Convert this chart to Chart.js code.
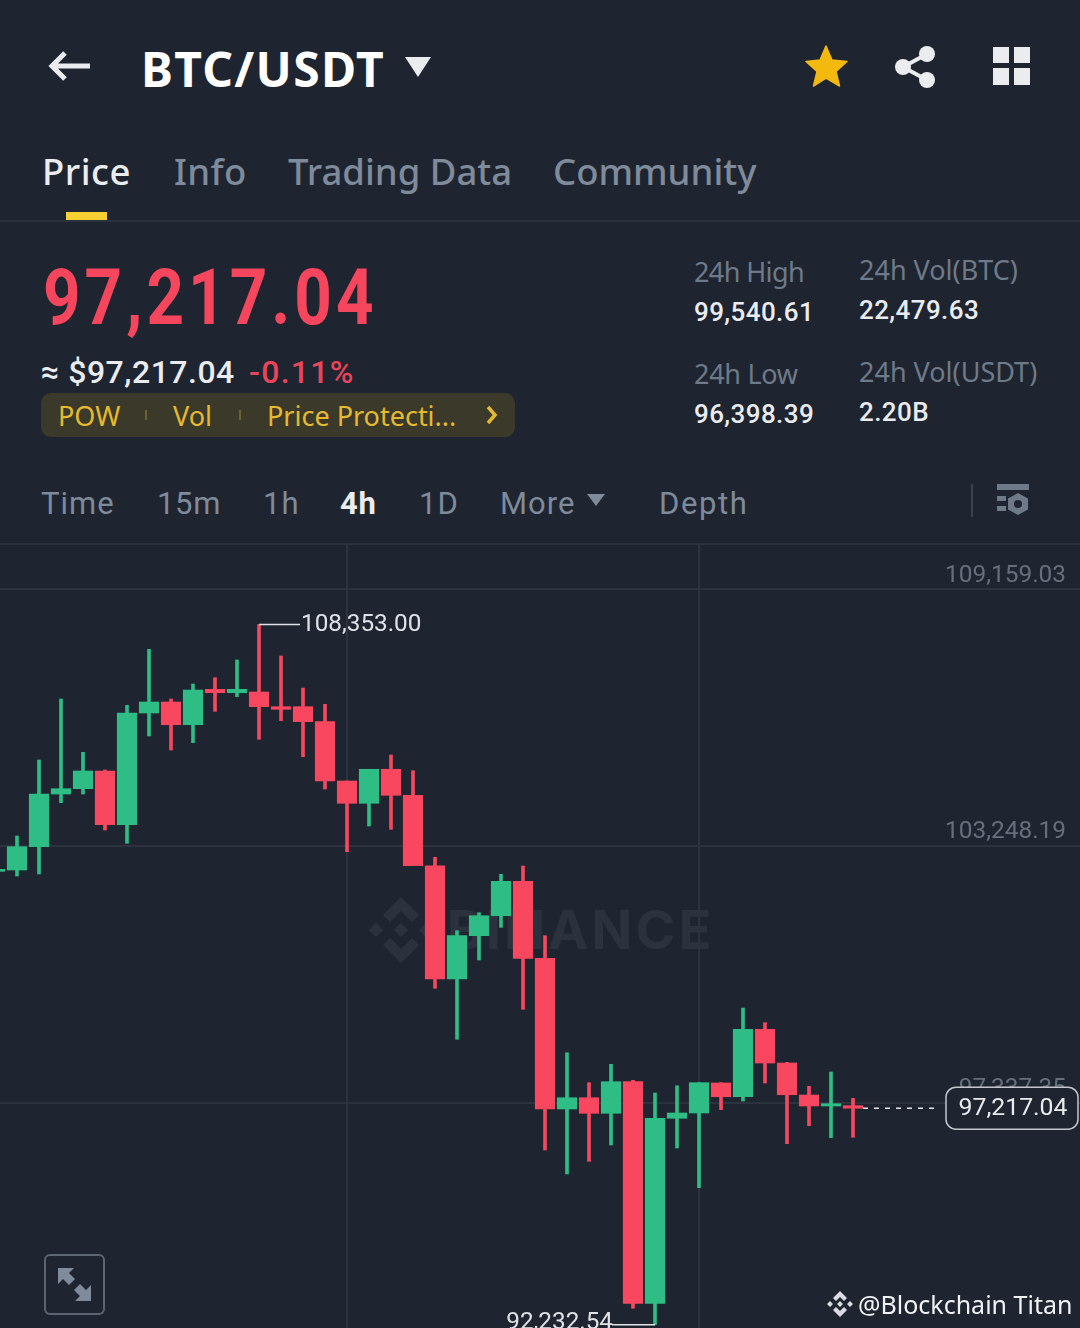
<!DOCTYPE html>
<html>
<head>
<meta charset="utf-8">
<title>BTC/USDT</title>
<script src="https://cdn.jsdelivr.net/npm/chart.js@4"></script>
<style>
  html, body { margin: 0; padding: 0; background: #1e2530; }
  body { position: relative; width: 1080px; height: 1328px; overflow: hidden; font-family: "Noto Sans", sans-serif; color: #eaecef; }
  .t { position: absolute; white-space: nowrap; line-height: 1; transform: translateY(-50%); }
  .rule { position: absolute; left: 0; width: 1080px; height: 2px; background: #2a313c; }
  .gray { color: #7f8a9a; }
  .stat { font-size: 27px; color: #6f7a89; }
  .val { font-size: 26px; font-family: Roboto, sans-serif; font-weight: 500; letter-spacing: .4px; }
  .tab { font-size: 36.5px; font-weight: 500; }
  .range { font-size: 31px; color: #7f8a9a; font-family: Roboto, sans-serif; letter-spacing: 1px; }
  .gold { font-size: 27px; color: #e6b92e; }
  svg { position: absolute; }
  #pill { position: absolute; left: 41px; top: 393px; width: 474px; height: 44px; background: #3b3a2a; border-radius: 10px; }
  #chart { position: absolute; left: -16px; top: 545px; }
</style>
</head>
<body>

<!-- header -->
<svg style="left:46px;top:48px" width="48" height="36" viewBox="0 0 48 36"><path d="M44 18H6M19 5L6 18l13 13" fill="none" stroke="#eaecef" stroke-width="5"/></svg>
<div class="t" style="left:141px;top:69px;font-size:48px;font-weight:700;color:#fff;letter-spacing:1.3px">BTC/USDT</div>
<svg style="left:405px;top:57px" width="26" height="20"><path d="M0 0H26L13 20Z" fill="#eaecef"/></svg>
<svg style="left:804px;top:44px" width="44" height="44" viewBox="0 0 44 44"><path d="M22 2l6 14 15 1.500-11 10 3.500 14.500L22 34 9.500 42 13 27.500 2 17.500 16 16Z" fill="#f4b90f" stroke="#f4b90f" stroke-width="1.500" stroke-linejoin="round"/></svg>
<svg style="left:892px;top:44px" width="46" height="44" viewBox="0 0 46 44"><path d="M35 10L11 23l24 13" fill="none" stroke="#eaecef" stroke-width="4"/><circle cx="35" cy="10" r="8" fill="#eaecef"/><circle cx="11" cy="23" r="8" fill="#eaecef"/><circle cx="35" cy="36" r="8" fill="#eaecef"/></svg>
<svg style="left:993px;top:47px" width="38" height="38"><path d="M0 0h16v16H0zM21 0h16v16H21zM0 21h16v17H0zM21 21h16v17H21z" fill="#eaecef"/></svg>

<!-- tabs -->
<div class="t tab" style="left:42px;top:171px;color:#eaecef;letter-spacing:.5px">Price</div>
<div class="t tab gray" style="left:174px;top:171px;letter-spacing:.4px">Info</div>
<div class="t tab gray" style="left:288px;top:171px">Trading Data</div>
<div class="t tab gray" style="left:553px;top:171px">Community</div>
<div style="position:absolute;left:66px;top:212px;width:41px;height:9px;background:#f7cf33"></div>
<div class="rule" style="top:220px"></div>

<!-- price block -->
<div class="t" style="left:43px;top:298px;font-family:Roboto,sans-serif;font-weight:700;font-size:78px;color:#f6465d;letter-spacing:4.8px;transform:translateY(-50%) scaleX(.84);transform-origin:left center">97,217.04</div>
<div class="t" style="left:41px;top:372px;font-family:Roboto,sans-serif;font-weight:500;font-size:32px;letter-spacing:.5px">≈ $97,217.04</div>
<div class="t" style="left:249px;top:372px;font-family:Roboto,sans-serif;font-weight:500;font-size:32px;color:#e8455c;letter-spacing:1.3px">-0.11%</div>
<div id="pill"></div>
<div class="t gold" style="left:58px;top:415px">POW</div>
<div style="position:absolute;left:145px;top:410px;width:2px;height:10px;background:#6e6330"></div>
<div class="t gold" style="left:173px;top:415px">Vol</div>
<div style="position:absolute;left:239px;top:410px;width:2px;height:10px;background:#6e6330"></div>
<div class="t gold" style="left:267px;top:415px">Price Protecti...</div>
<svg style="left:486px;top:405px" width="13" height="20"><path d="M2 2l7 8-7 8" fill="none" stroke="#e6b92e" stroke-width="3.500"/></svg>

<!-- 24h stats -->
<div class="t stat" style="left:694px;top:271px;letter-spacing:-.6px">24h High</div>
<div class="t val" style="left:694px;top:312px">99,540.61</div>
<div class="t stat" style="left:694px;top:373px;letter-spacing:-.3px">24h Low</div>
<div class="t val" style="left:694px;top:414px">96,398.39</div>
<div class="t stat" style="left:859px;top:269px">24h Vol(BTC)</div>
<div class="t val" style="left:859px;top:310px">22,479.63</div>
<div class="t stat" style="left:859px;top:371px">24h Vol(USDT)</div>
<div class="t val" style="left:859px;top:412px">2.20B</div>

<!-- interval row -->
<div class="t range" style="left:41px;top:503px">Time</div>
<div class="t range" style="left:157px;top:503px;letter-spacing:.7px">15m</div>
<div class="t range" style="left:263px;top:503px">1h</div>
<div class="t range" style="left:340px;top:503px;color:#eaecef;font-weight:700;letter-spacing:.6px">4h</div>
<div class="t range" style="left:419px;top:503px">1D</div>
<div class="t range" style="left:500px;top:503px">More</div>
<svg style="left:587px;top:494px" width="18" height="12"><path d="M0 0H18L9 12Z" fill="#7f8a9a"/></svg>
<div class="t range" style="left:659px;top:503px;letter-spacing:1.6px">Depth</div>
<div style="position:absolute;left:971px;top:484px;width:2px;height:33px;background:#3a424e"></div>
<svg style="left:996px;top:483px" width="34" height="36"><path d="M1 1h32v6H1zM1 13h9v5H1zM1 23h9v5H1z" fill="#6f7a89"/><path d="M22 10l10 5.500v11L22 32l-10-5.500v-11z" fill="#6f7a89"/><circle cx="22" cy="21" r="4" fill="#1e2530"/></svg>
<div class="rule" style="top:543px"></div>

<!-- watermark under the chart -->
<svg style="left:367px;top:896px" width="68" height="68" viewBox="0 0 68 68" fill="#2b323d"><path d="M34 1L52 19l-7 7-11-11-11 11-7-7zM34 67L16 49l7-7 11 11 11-11 7 7zM9 27l7 7-7 7-7-7zM59 27l7 7-7 7-7-7zM34 27l7 7-7 7-7-7z"/></svg>
<div class="t" style="left:447px;top:930px;font-family:Inter,sans-serif;font-weight:700;font-size:54px;color:#2b323d;letter-spacing:3px">BINANCE</div>

<canvas id="chart" width="1100" height="783"></canvas>

<!-- expand button -->
<svg style="left:44px;top:1254px" width="61" height="61"><rect x="1" y="1" width="59" height="59" rx="5" fill="none" stroke="#5c6572" stroke-width="2"/><path d="M14 14h16l-5 5 6 6-6 6-6-6-5 5zM47 47H31l5-5-6-6 6-6 6 6 5-5z" fill="#7f8a9a"/></svg>

<!-- credit -->
<svg style="left:826px;top:1290px" width="28" height="28" viewBox="0 0 28 28" fill="#d9dce0"><path d="M14 1l7 7-3 3-4-4-4 4-3-3zM14 27l-7-7 3-3 4 4 4-4 3 3zM4 11l3 3-3 3-3-3zM24 11l3 3-3 3-3-3zM14 11l3 3-3 3-3-3z"/></svg>
<div class="t" style="left:858px;top:1304px;font-size:25px;color:#f2f3f5">@Blockchain Titan</div>

<script>
// ---- DATA ----
const slots = [0, 1, 2, 3, 4, 5, 6, 7, 8, 9, 10, 11, 12, 13, 14, 15, 16, 17, 18, 19, 20, 21, 22, 23, 24,
  25, 26, 27, 28, 29, 30, 31, 32, 33, 34, 35, 36, 37, 38, 39, 40, 41, 42, 43, 44, 45, 46, 47, 48, 49];
const opens = [102671, 102701, 103238, 104451, 104573, 104981, 103744, 106316, 106569, 106046,
  106861, 106783, 106799, 106461, 106461, 106116, 104750, 104237, 105020, 104421,
  102800, 100192, 101189, 101649, 102441, 100668, 97199, 97459, 97100, 97828,
  92726, 96985, 97107, 97798, 97482, 99034, 98258, 97521, 97268, 97275];
const closes = [102717, 103238, 104451, 104573, 104981, 103744, 106316, 106569, 106046, 106845,
  106783, 106861, 106461, 106401, 106116, 104750, 104237, 105020, 104421, 102800,
  100192, 101189, 101649, 102441, 100668, 97199, 97459, 97100, 97828, 92726,
  96985, 97107, 97805, 97482, 99034, 98258, 97528, 97268, 97321, 97217.04];
const highs = [102790, 103484, 105234, 106638, 105411, 105004, 106493, 107782, 106638, 106983,
  107128, 107536, 108353, 107628, 106891, 106516, 104750, 105020, 105349, 104987,
  102994, 101304, 101718, 102602, 102793, 101189, 98495, 97805, 98228, 97860,
  97567, 97735, 97805, 97805, 99524, 99186, 98274, 97722, 98051, 97445];
const lows = [102600, 102563, 102609, 104251, 104451, 103622, 103316, 105786, 105464, 105632,
  106355, 106691, 105710, 106139, 105310, 104566, 103123, 103714, 103638, 102800,
  99978, 98804, 100629, 101382, 99494, 96255, 95703, 95995, 96370, 92611,
  92232.54, 96301, 95387, 97183, 97383, 97798, 96400, 96814, 96539, 96548];
const priceTicks = [109159.03, 103248.19, 97337.35];
const timeTicks = [16, 32];
const lastPrice = 97217.04;
const priceMin = 92157.3;
const priceMax = 110183.5;

const UP = '#2ebd85';
const DOWN = '#f8475f';
const GRID = '#2c333e';

const money = v => v.toLocaleString('en-US', { minimumFractionDigits: 2, maximumFractionDigits: 2 });
const candleColors = opens.map((o, i) => closes[i] >= o ? UP : DOWN);

// ---- OVERLAYS ----
const overlays = {
  id: 'overlays',
  afterDatasetsDraw(chart) {
    const { ctx, scales: { x, y } } = chart;
    ctx.save();
    ctx.font = '24.3px Roboto';
    ctx.textBaseline = 'middle';

    // highest / lowest labels
    const hi = highs.indexOf(Math.max(...highs));
    const hx = x.getPixelForValue(hi);
    const hy = y.getPixelForValue(highs[hi]);
    ctx.strokeStyle = ctx.fillStyle = '#dfe2e6';
    ctx.lineWidth = 1.5;
    ctx.beginPath(); ctx.moveTo(hx, hy); ctx.lineTo(hx + 41, hy); ctx.stroke();
    ctx.textAlign = 'left';
    ctx.fillText(money(highs[hi]), hx + 42, hy);

    const lo = lows.indexOf(Math.min(...lows));
    const lx = x.getPixelForValue(lo);
    const ly = y.getPixelForValue(lows[lo]);
    ctx.beginPath(); ctx.moveTo(lx, ly); ctx.lineTo(lx - 43, ly); ctx.stroke();
    ctx.textAlign = 'right';
    ctx.fillText(money(lows[lo]), lx - 42, ly - 2);

    // last price dashes and box
    const last = opens.length - 1;
    const py = y.getPixelForValue(lastPrice);
    const px = x.getPixelForValue(last);
    ctx.strokeStyle = '#e4e6ea';
    ctx.setLineDash([5, 6]);
    ctx.beginPath(); ctx.moveTo(px + 10, py); ctx.lineTo(px + 82, py); ctx.stroke();
    ctx.setLineDash([]);

    const boxX = 962, boxW = 132, boxH = 42;
    ctx.beginPath();
    ctx.roundRect(boxX, py - boxH / 2, boxW, boxH, 10);
    ctx.fillStyle = '#1e2530';
    ctx.fill();
    ctx.strokeStyle = '#c3c7cd';
    ctx.stroke();
    ctx.font = '24.8px Roboto';
    ctx.fillStyle = '#e8eaed';
    ctx.textAlign = 'center';
    ctx.fillText(money(lastPrice), boxX + boxW / 2 + 1, py + 1);
    ctx.restore();
  }
};

// ---- CHART ----
function initCandleChart() {
  new Chart(document.getElementById('chart'), {
    type: 'bar',
    data: {
      labels: slots,
      datasets: [
        {
          label: 'High-Low',
          data: lows.map((l, i) => [l, highs[i]]),
          backgroundColor: candleColors,
          barThickness: 3,
          grouped: false,
          borderSkipped: false
        },
        {
          label: 'Open-Close',
          data: opens.map((o, i) => [o, closes[i]]),
          backgroundColor: candleColors,
          barThickness: 19.5,
          grouped: false,
          borderSkipped: false
        }
      ]
    },
    options: {
      responsive: false,
      animation: false,
      devicePixelRatio: 1,
      layout: { padding: 0 },
      plugins: { legend: { display: false }, tooltip: { enabled: false } },
      scales: {
        x: {
          offset: true,
          border: { display: false },
          grid: { color: GRID, offset: false, drawTicks: false, lineWidth: 2 },
          ticks: { display: false, autoSkip: false },
          afterBuildTicks: axis => { axis.ticks = timeTicks.map(v => ({ value: v })); }
        },
        y: {
          position: 'right',
          min: priceMin,
          max: priceMax,
          border: { display: false },
          grid: { color: GRID, drawTicks: false, lineWidth: 2 },
          ticks: {
            mirror: true,
            padding: -18,
            labelOffset: -14,
            autoSkip: false,
            color: '#666f7c',
            font: { family: 'Roboto', size: 24.4 },
            callback: v => money(v)
          },
          afterBuildTicks: axis => { axis.ticks = priceTicks.map(v => ({ value: v })); },
          afterFit: axis => { axis.width = 0; axis.paddingTop = 0; axis.paddingBottom = 0; }
        }
      }
    },
    plugins: [overlays]
  });
}

document.addEventListener('DOMContentLoaded', initCandleChart);
</script>
</body>
</html>
